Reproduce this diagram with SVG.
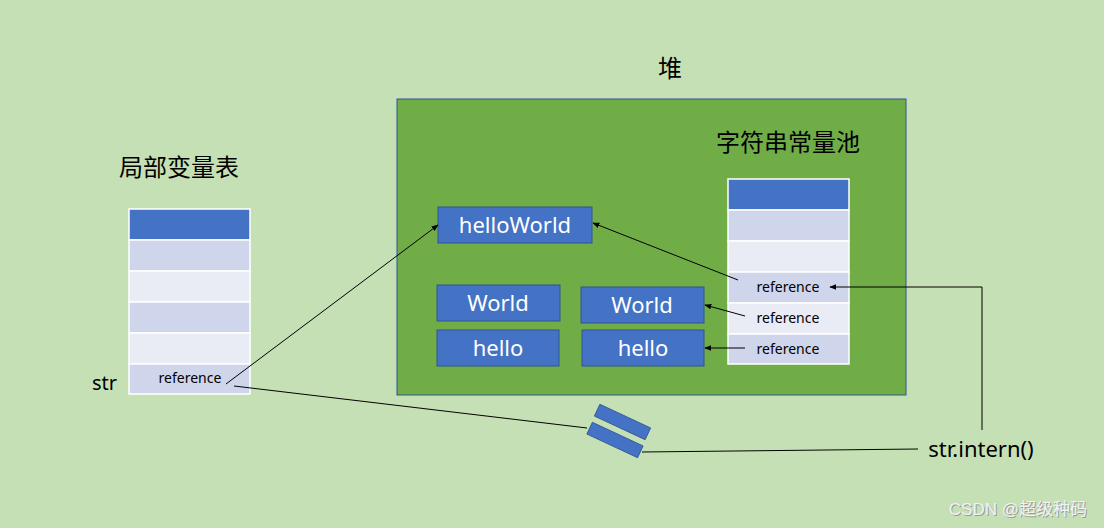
<svg xmlns="http://www.w3.org/2000/svg" width="1104" height="528" viewBox="0 0 1104 528">
<style>
.cn{font-family:"Noto Sans CJK SC","Noto Sans",sans-serif;font-size:24px;fill:#000}
.lbl{font-family:"Noto Sans","Liberation Sans",sans-serif;fill:#000}
.box{fill:#4472C4;stroke:#2F5597;stroke-width:1}
.bt{font-family:"Noto Sans","Liberation Sans",sans-serif;font-size:22px;fill:#fff;text-anchor:middle}
.hd{fill:#4472C4;stroke:#fff;stroke-width:1.5}
.r1{fill:#CFD5EA;stroke:#fff;stroke-width:1.5}
.r2{fill:#E9EBF5;stroke:#fff;stroke-width:1.5}
.ref{font-family:"Noto Sans","Liberation Sans",sans-serif;font-size:14px;fill:#000;text-anchor:middle}
.ln{stroke:#000;stroke-width:1;fill:none}
</style>
<defs>
<marker id="ah" viewBox="0 0 10 10" refX="9" refY="5" markerWidth="7" markerHeight="7" orient="auto" markerUnits="userSpaceOnUse">
<path d="M0,1 L10,5 L0,9 Z" fill="#000"/>
</marker>
</defs>
<rect x="0" y="0" width="1104" height="528" fill="#C5E0B4"/>

<g id="heap">
<rect x="397" y="99" width="509" height="296" fill="#70AD47" stroke="#2F5597" stroke-width="1"/>
<text class="cn" x="670" y="77" text-anchor="middle">堆</text>
</g>

<g id="local-table">
<text class="cn" x="179" y="176" text-anchor="middle">局部变量表</text>
<rect class="hd" x="129" y="209" width="121" height="31"/>
<rect class="r1" x="129" y="240" width="121" height="31"/>
<rect class="r2" x="129" y="271" width="121" height="31"/>
<rect class="r1" x="129" y="302" width="121" height="31"/>
<rect class="r2" x="129" y="333" width="121" height="31"/>
<rect class="r1" x="129" y="364" width="121" height="30"/>
<text class="ref" x="190" y="383">reference</text>
<text class="lbl" x="92" y="390" font-size="20">str</text>
</g>

<g id="pool">
<text class="cn" x="788" y="151" text-anchor="middle">字符串常量池</text>
<rect class="hd" x="728" y="179" width="121" height="31"/>
<rect class="r1" x="728" y="210" width="121" height="31"/>
<rect class="r2" x="728" y="241" width="121" height="31"/>
<rect class="r1" x="728" y="272" width="121" height="31"/>
<rect class="r2" x="728" y="303" width="121" height="31"/>
<rect class="r1" x="728" y="334" width="121" height="30"/>
<text class="ref" x="788" y="292">reference</text>
<text class="ref" x="788" y="323">reference</text>
<text class="ref" x="788" y="354">reference</text>
</g>

<g id="helloWorld">
<rect class="box" x="438" y="207" width="154" height="36"/>
<text class="bt" x="515" y="233">helloWorld</text>
</g>
<g id="world1">
<rect class="box" x="437" y="285" width="123" height="36"/>
<text class="bt" x="498" y="311">World</text>
</g>
<g id="hello1">
<rect class="box" x="437" y="330" width="122" height="36"/>
<text class="bt" x="498" y="356">hello</text>
</g>
<g id="world2">
<rect class="box" x="581" y="287" width="123" height="36"/>
<text class="bt" x="642" y="313">World</text>
</g>
<g id="hello2">
<rect class="box" x="582" y="330" width="122" height="36"/>
<text class="bt" x="643" y="356">hello</text>
</g>

<g id="equals">
<rect x="-28" y="-6.5" width="56" height="13" fill="#4472C4" stroke="#2F5597" stroke-width="0.8" transform="translate(622.5,422) rotate(25)"/>
<rect x="-28" y="-6.5" width="56" height="13" fill="#4472C4" stroke="#2F5597" stroke-width="0.8" transform="translate(615,440) rotate(25)"/>
</g>

<g id="intern">
<text class="lbl" x="981" y="457" font-size="22" text-anchor="middle">str.intern()</text>
</g>

<g id="connectors">
<line class="ln" x1="226" y1="384" x2="438" y2="225" marker-end="url(#ah)"/>
<line class="ln" x1="738" y1="280" x2="593" y2="223" marker-end="url(#ah)"/>
<line class="ln" x1="745" y1="316" x2="705" y2="305" marker-end="url(#ah)"/>
<line class="ln" x1="745" y1="348" x2="705" y2="348" marker-end="url(#ah)"/>
<polyline class="ln" points="982,430 982,287 830,287" marker-end="url(#ah)"/>
<line class="ln" x1="234" y1="386" x2="587" y2="428"/>
<line class="ln" x1="642" y1="452" x2="918" y2="449"/>
</g>

<text x="1088" y="516" font-family="Liberation Sans,Noto Sans CJK SC,sans-serif" font-size="17" fill="#9a9a9a" text-anchor="end">CSDN @超级种码</text>
<text x="1087" y="515" font-family="Liberation Sans,Noto Sans CJK SC,sans-serif" font-size="17" fill="#f2f2f2" text-anchor="end">CSDN @超级种码</text>
</svg>
